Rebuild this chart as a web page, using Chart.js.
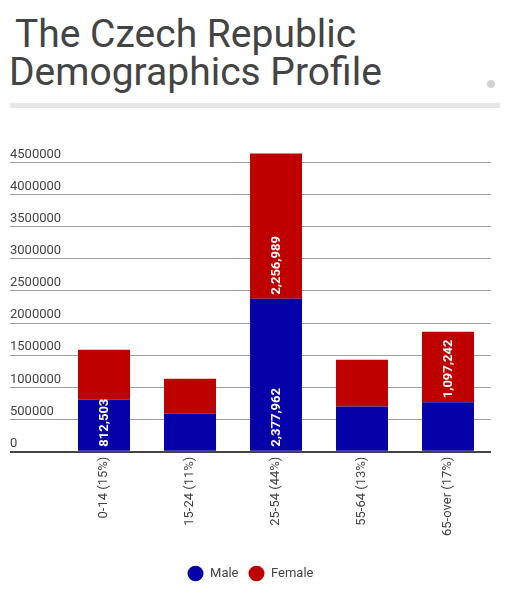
<!DOCTYPE html>
<html>
<head>
<meta charset="utf-8">
<title>The Czech Republic Demographics Profile</title>
<script src="https://cdn.jsdelivr.net/npm/chart.js@4"></script>
<style>
    body { margin: 0; background: #fff; font-family: Roboto, sans-serif; }
    #page { position: relative; width: 513px; height: 602px; overflow: hidden; }
    .title { position: absolute; font-size: 39px; color: #444; line-height: 39px; white-space: nowrap; }
    #rule { position: absolute; left: 10px; top: 103px; width: 490px; height: 5px; background: #e6e6e6; }
    #dot { position: absolute; left: 487px; top: 80px; width: 8px; height: 8px; border-radius: 50%; background: #d2d2d2; }
    #chart-box { position: absolute; left: 0; top: 110px; width: 513px; height: 492px; }
</style>
</head>
<body>
<div id="page">
    <div class="title" style="left: 15px; top: 15px;">The Czech Republic</div>
    <div class="title" style="left: 9px; top: 53px;">Demographics Profile</div>
    <div id="dot"></div>
    <div id="rule"></div>
    <div id="chart-box"><canvas id="demo-chart"></canvas></div>
</div>
<script>
// Datos del gráfico
const ageGroups = ["0-14 (15%)", "15-24 (11%)", "25-54 (44%)", "55-64 (13%)", "65-over (17%)"];
const maleValues = [812503, 588000, 2377962, 702000, 768000];
const femaleValues = [772000, 545000, 2256989, 727000, 1097242];
// Qué barras llevan etiqueta de valor
const maleShowLabel = [true, false, true, false, false];
const femaleShowLabel = [false, false, true, false, true];
// Marcas del eje Y
const yTicks = [0, 500000, 1000000, 1500000, 2000000, 2500000, 3000000, 3500000, 4000000, 4500000];

const MALE_COLOR = "#0600a8";
const FEMALE_COLOR = "#bf0000";
const TEXT_COLOR = "#444";

// Etiquetas blancas giradas dentro de las barras
const barLabels = {
    id: "barLabels",
    afterDatasetsDraw(chart) {
        const ctx = chart.ctx;
        const flags = [maleShowLabel, femaleShowLabel];
        chart.data.datasets.forEach((ds, di) => {
            const meta = chart.getDatasetMeta(di);
            meta.data.forEach((bar, i) => {
                if (!flags[di][i]) return;
                ctx.save();
                ctx.translate(bar.x, bar.base - 4);
                ctx.rotate(-Math.PI / 2);
                ctx.font = "bold 13px Roboto";
                ctx.fillStyle = "#fff";
                ctx.textAlign = "left";
                ctx.textBaseline = "middle";
                ctx.fillText(ds.data[i].toLocaleString("en-US"), 0, 1);
                ctx.restore();
            });
        });
    }
};

new Chart(document.getElementById("demo-chart"), {
    type: "bar",
    data: {
        labels: ageGroups,
        datasets: [
            { label: "Male", data: maleValues, backgroundColor: MALE_COLOR },
            { label: "Female", data: femaleValues, backgroundColor: FEMALE_COLOR },
        ],
    },
    options: {
        responsive: true,
        maintainAspectRatio: false,
        animation: false,
        layout: { padding: { left: 10, right: 22, top: 33, bottom: 12 } },
        datasets: { bar: { categoryPercentage: 1, barPercentage: 0.605 } },
        scales: {
            x: {
                stacked: true,
                grid: { display: false, drawTicks: false },
                border: { display: false },
                afterFit: (scale) => { scale.height += 16; },
                ticks: {
                    autoSkip: false,
                    minRotation: 90,
                    maxRotation: 90,
                    padding: 5,
                    color: TEXT_COLOR,
                    font: { family: "Roboto", size: 13 },
                },
            },
            y: {
                stacked: true,
                min: 0,
                max: 4800000,
                afterBuildTicks: (scale) => {
                    scale.ticks = yTicks.map(v => ({ value: v }));
                },
                afterFit: (scale) => { scale.width = 51; },
                border: { display: false },
                grid: {
                    color: (c) => c.tick && c.tick.value === 0 ? "#444" : "#a0a0a0",
                    lineWidth: (c) => c.tick && c.tick.value === 0 ? 2 : 1,
                    tickLength: 51,
                },
                ticks: {
                    autoSkip: false,
                    crossAlign: "far",
                    labelOffset: -8,
                    color: TEXT_COLOR,
                    font: { family: "Roboto", size: 13 },
                    callback: (v) => String(v),
                },
            },
        },
        plugins: {
            legend: {
                position: "bottom",
                labels: {
                    usePointStyle: true,
                    pointStyle: "circle",
                    boxHeight: 11,
                    pointStyleWidth: 16,
                    padding: 10,
                    color: TEXT_COLOR,
                    font: { family: "Roboto", size: 13 },
                },
            },
            tooltip: { enabled: false },
        },
    },
    plugins: [barLabels],
});
</script>
</body>
</html>
